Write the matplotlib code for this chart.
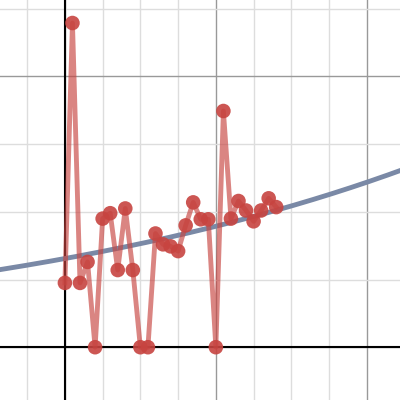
import numpy as np
import matplotlib
matplotlib.use("Agg")
import matplotlib.pyplot as plt

xs = [0.0,0.2,0.4,0.6,0.8,1.0,1.2,1.4,1.6,1.8,2.0,2.2,2.4,2.6,2.8,3.0,3.2,3.4,3.6,3.8,4.0,4.2,4.4,4.6,4.8,5.0,5.2,5.4,5.6]
ys = [0.95,4.79,0.95,1.26,0.0,1.9,1.98,1.14,2.05,1.14,0.0,0.0,1.68,1.52,1.49,1.42,1.80,2.14,1.89,1.89,0.0,3.49,1.9,2.16,2.02,1.86,2.02,2.2,2.07]
fit_a = 1.31
fit_b = 0.0776

fig = plt.figure(figsize=(4,4), dpi=100)
ax = fig.add_axes([0,0,1,1])
xmin, xmax, ymin, ymax = -1.72, 8.88, -0.78, 5.13
ax.set_xlim(xmin, xmax); ax.set_ylim(ymin, ymax)
for v in np.arange(-1, 9, 1):
    ax.axvline(v, color='#999999' if v % 4 == 0 else '#dddddd', lw=1, zorder=0)
for v in np.arange(0, 6, 1):
    ax.axhline(v, color='#999999' if v % 4 == 0 else '#dddddd', lw=1, zorder=0)
ax.axhline(0, color='black', lw=1.5, zorder=1)
ax.axvline(0, color='black', lw=1.5, zorder=1)
cx = np.linspace(xmin, xmax, 300)
ax.plot(cx, fit_a*np.exp(fit_b*cx), color='#7a89a6', lw=3.5, zorder=2)
ax.plot(xs, ys, color='#c74440', alpha=0.65, lw=3.5, zorder=3)
ax.scatter(xs, ys, s=110, color='#c74440', alpha=0.9, zorder=4, edgecolors='none')
ax.axis('off')
fig.savefig('out.png')
